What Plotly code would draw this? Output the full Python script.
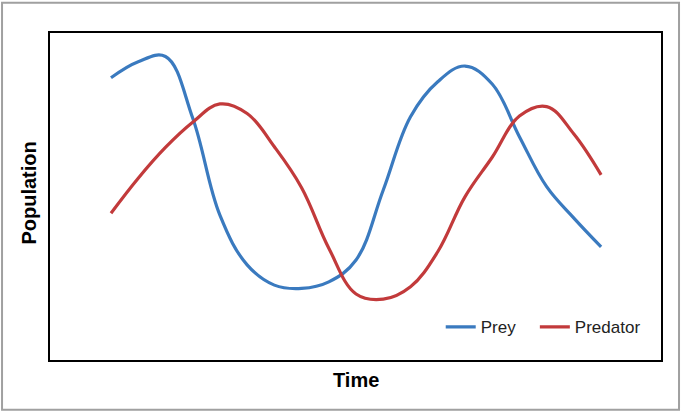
import plotly.graph_objects as go

time_idx = [1.0, 1.5, 2.0, 2.5, 3.0, 3.5, 4.0, 4.5, 5.0, 5.5,
            6.0, 6.5, 7.0, 7.5, 8.0, 8.5, 9.0, 9.5, 10.0]
prey = [86.3, 91.2, 92.8, 74.0, 44.3, 29.1, 22.9, 21.9, 23.9, 30.6,
        52.0, 74.4, 85.1, 89.9, 84.4, 68.3, 53.0, 43.4, 34.6]
predator = [44.9, 55.6, 65.0, 72.7, 78.3, 75.4, 65.2, 52.7, 34.2, 20.2,
            18.6, 22.4, 33.1, 49.9, 62.0, 74.6, 77.5, 69.1, 56.6]
series_names = ["Prey", "Predator"]

fig = go.Figure()
fig.add_trace(go.Scatter(x=time_idx, y=prey, mode="lines", name=series_names[0] + "\u00a0\u00a0\u00a0",
                         line=dict(color="#3a7abf", width=3.2, shape="spline", smoothing=1.1)))
fig.add_trace(go.Scatter(x=time_idx, y=predator, mode="lines", name=series_names[1],
                         line=dict(color="#c23a3b", width=3.2, shape="spline", smoothing=1.1)))

fig.update_layout(
    width=685, height=412,
    margin=dict(l=50, r=24, t=33, b=52),
    paper_bgcolor="white", plot_bgcolor="white",
    font=dict(family="Liberation Sans, Arial, sans-serif", color="#222"),
    showlegend=True,
    legend=dict(orientation="h", x=0.975, xanchor="right", y=0.10, yanchor="middle",
                font=dict(size=17, color="#222"), bgcolor="rgba(0,0,0,0)",
                itemwidth=30, tracegroupgap=0),
    xaxis=dict(range=[-0.12, 11.1], showticklabels=False, showgrid=False, zeroline=False,
               ticks="", showline=True, linecolor="black", linewidth=2, mirror=True),
    yaxis=dict(range=[0, 100], showticklabels=False, showgrid=False, zeroline=False,
               ticks="", showline=True, linecolor="black", linewidth=2, mirror=True),
    annotations=[
        dict(text="<b>Population</b>", xref="paper", yref="paper", x=-0.013, y=0.509,
             xanchor="right", yanchor="middle", textangle=-90, showarrow=False,
             font=dict(size=20, color="black")),
        dict(text="<b>Time</b>", xref="paper", yref="paper", x=0.5, y=-0.061,
             xanchor="center", yanchor="middle", showarrow=False,
             font=dict(size=20, color="black")),
    ],
    shapes=[
        dict(type="rect", xref="paper", yref="paper",
             x0=-0.0785, x1=1.0295, y0=-0.1525, y1=1.0925,
             line=dict(color="#a0a0a0", width=2), layer="below"),
    ],
)

fig.write_html("out.html", config={"displayModeBar": False},
               post_script="document.body.style.margin='0';document.body.style.padding='0';")
